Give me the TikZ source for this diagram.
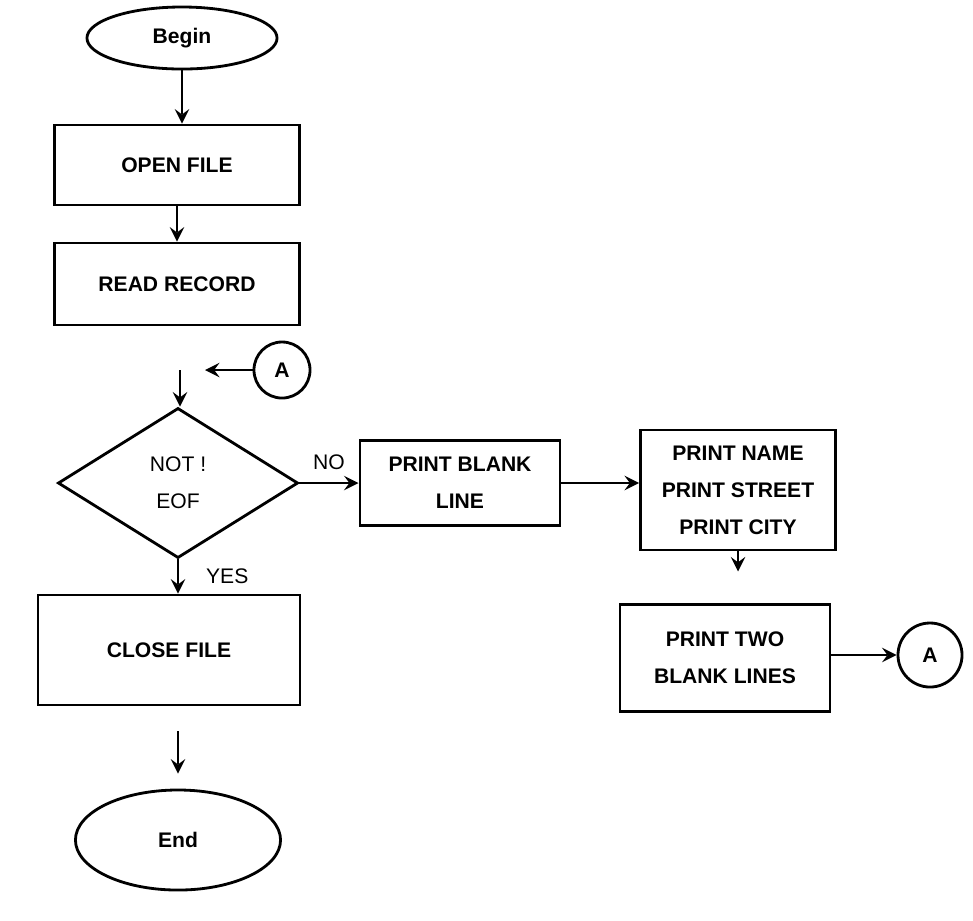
\documentclass[tikz,border=0pt]{standalone}
\usepackage{fontspec}
\setmainfont{Liberation Sans}
\usetikzlibrary{shapes.geometric}

\tikzset{
	box/.style={draw, thick, align=center, font=\fontsize{6}{10.5}\selectfont\bfseries},
	term/.style={draw, thick, ellipse, font=\fontsize{6}{10.5}\selectfont\bfseries},
	conn/.style={draw, thick, circle, inner sep=0pt, minimum size=0.56cm, font=\fontsize{6}{10.5}\selectfont\bfseries},
	flow/.style={-stealth, thick}
}

\begin{document}
\begin{tikzpicture}[x=0.01cm, y=-0.01cm, font=\fontsize{6}{10.5}\selectfont]
		\useasboundingbox (0,0) rectangle (973,920);

		\node[term, minimum width=1.9cm, minimum height=0.62cm] at (182,38) (begin) {Begin};
		\node[box, minimum width=2.45cm, minimum height=0.8cm] at (177,165) (open) {OPEN FILE};
		\node[box, minimum width=2.45cm, minimum height=0.82cm] at (177,284) (read) {READ RECORD};
		\coordinate (join) at (180,370);
		\node[conn] at (282,370) (a1) {A};
		\node[draw, thick, diamond, aspect=1.6, minimum width=2.4cm, minimum height=1.5cm, align=center] at (178,483) (eof) {NOT !\\EOF};
		\node[box, minimum width=2cm, minimum height=0.85cm] at (460,483) (blank) {PRINT BLANK\\LINE};
		\node[box, minimum width=1.95cm, minimum height=1.2cm] at (738,490) (names) {PRINT NAME\\PRINT STREET\\PRINT CITY};
		\node[box, minimum width=2.1cm, minimum height=1.07cm] at (725,658) (two) {PRINT TWO\\BLANK LINES};
		\node[conn, minimum size=0.64cm] at (930,655) (a2) {A};
		\node[box, minimum width=2.62cm, minimum height=1.1cm] at (169,650) (close) {CLOSE FILE};
		\node[term, minimum width=2.05cm, minimum height=1cm] at (178,840) (end) {End};

		\draw[flow] (begin.south) -- (begin.south |- open.north);
		\draw[flow] (open) -- (read);
		\draw[flow] (a1) -- ([xshift=0.25cm]join);
		\draw[flow] (join) -- (eof.north -| join);
		\draw[flow] (eof.east) -- node[above] {NO} (blank);
		\draw[flow] (blank) -- (names.west |- blank);
		\draw[flow] (names.south) -- ([yshift=-0.2cm]names.south);
		\draw[flow] (two.east |- a2) -- (a2);
		\draw[flow] (eof.south) -- node[right=0.15cm] {YES} (close.north -| eof.south);
		\draw[flow] ([yshift=-0.25cm]close.south -| end) -- ([yshift=0.15cm]end.north);
\end{tikzpicture}
\end{document}
